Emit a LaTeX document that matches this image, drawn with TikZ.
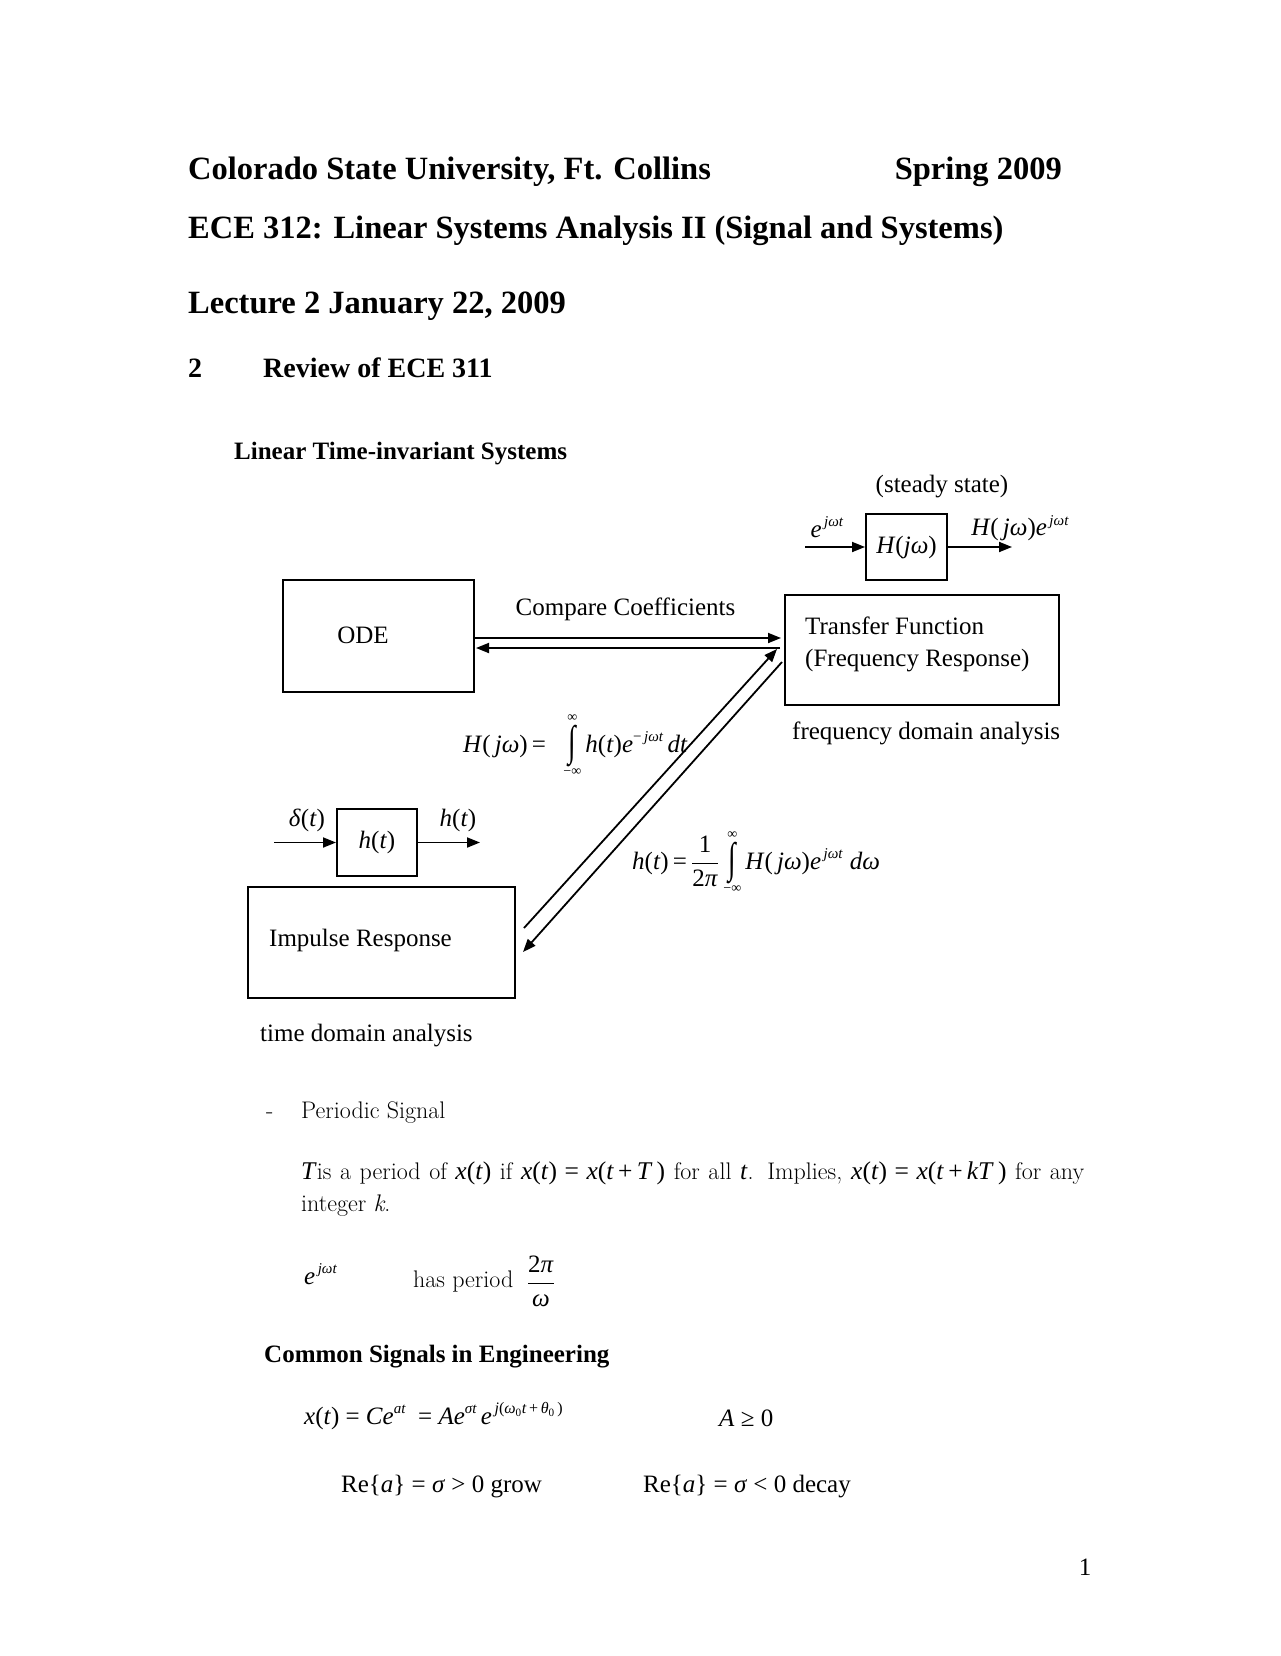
\documentclass[tikz,border=0pt]{standalone}
\usepackage{graphicx}
\usepackage{fontspec}
\setmainfont{Liberation Serif}
\usetikzlibrary{arrows.meta,calc}
\newcommand\vi[1]{\textit{#1}}
\newcommand\sups[1]{\raisebox{0.42em}{\fontsize{15}{15}\selectfont #1}}
\newcommand\mt[1]{{\rmfamily\fontsize{25.5}{30}\selectfont #1}}
\newcommand\lmf{\fontfamily{lmr}\fontsize{24}{28}\selectfont}
\newcommand\limint{\ensuremath{\mathop{\vcenter{\hbox{\scalebox{1.1}[1.7]{∫}}}}\limits^{\hbox{\fontsize{14}{14}\selectfont\raisebox{2pt}{∞}}}_{\hbox{\fontsize{14}{14}\selectfont\raisebox{-2pt}{−∞}}}}}
\begin{document}
\begin{tikzpicture}[x=1pt,y=-1pt,
  box/.style={draw,line width=2pt,inner sep=0pt},
  txt/.style={inner sep=0pt,font=\fontsize{25}{30}\selectfont},
  head/.style={inner sep=0pt,font=\fontsize{32.5}{38}\selectfont\bfseries},
  sec/.style={inner sep=0pt,font=\fontsize{28}{34}\selectfont\bfseries},
  bold25/.style={inner sep=0pt,font=\fontsize{25}{30}\selectfont\bfseries},
  lm/.style={inner sep=0pt,font=\lmf},
  arr/.style={line width=1.8pt,-{Triangle[length=13pt,width=10pt]}}]
\useasboundingbox[fill=white] (0,0) rectangle (1280,1656);
% headings
\node[head,anchor=base west] (t1) at (188,180) {Colorado State University, Ft. Collins};
\node[head,anchor=base east] (t2) at (1062,180) {Spring 2009};
\node[head,anchor=base west] (t3) at (188,238) {ECE 312: Linear Systems Analysis II\ (Signal and Systems)};
\node[head,anchor=base west] (t4) at (188,313) {Lecture 2\ January 22, 2009};
\node[sec,anchor=base west] (t5) at (188,377) {2};
\node[sec,anchor=base west] (t6) at (263,377) {Review of ECE 311};
\node[bold25,anchor=base west] (t7) at (234,459) {Linear Time-invariant Systems};
% steady state block
\node[txt,anchor=base] (ss) at (942,492) {(steady state)};
\node[box,txt,minimum width=81,minimum height=66] (hj) at (906.5,547) {\vi{H}(\vi{jω})};
\coordinate (hjin) at (805,547);
\coordinate (hjout) at (1012,547);
\draw[arr] (hjin) -- (hj.west);
\draw[arr] (hj.east) -- (hjout);
\node[txt] (ejw) at (827,527) {\vi{e}\sups{\,\vi{jωt}}};
\node[txt] (hout) at (1020,528) {\vi{H}(\,\vi{jω})\vi{e}\sups{\,\vi{jωt}}};
% main boxes
\node[box,minimum width=191,minimum height=112] (ode) at (378.5,636) {};
\node[txt,anchor=base] (odet) at (363,643) {ODE};
\node[box,minimum width=274,minimum height=110] (tf) at (922,650) {};
\node[txt,anchor=base west] (tft1) at (805,634) {Transfer Function};
\node[txt,anchor=base west] (tft2) at (805,666) {(Frequency Response)};
\node[box,minimum width=267,minimum height=111] (imp) at (381.5,942.5) {};
\node[txt,anchor=base west] (impt) at (269,946) {Impulse Response};
% impulse small block
\node[box,txt,minimum width=80,minimum height=67] (hb) at (377,842.5) {\vi{h}(\vi{t})};
\coordinate (hbin) at (274,842.5);
\coordinate (hbout) at (480,842.5);
\draw[arr] (hbin) -- (hb.west);
\draw[arr] (hb.east) -- (hbout);
\node[txt] (dl) at (307,820) {\vi{δ}(\vi{t})};
\node[txt] (hl) at (458,820) {\vi{h}(\vi{t})};
% labels
\node[txt,anchor=base] (cc) at (625.5,615) {Compare Coefficients};
\node[txt,anchor=base west] (fda) at (792,739) {frequency domain analysis};
\node[txt,anchor=base west] (tda) at (260,1041) {time domain analysis};
% connectors
\draw[arr] ($(ode.east)+(0,2)$) -- ($(tf.west)+(-3,-12)$);
\draw[arr] ($(tf.west)+(-4,-2)$) -- ($(ode.east)+(1,12)$);
\draw[arr] ($(imp.east)+(8,-14.5)$) -- ($(tf.west)+(-7,-1)$);
\draw[arr] ($(tf.west)+(-2,12)$) -- ($(imp.east)+(7,9.5)$);
% formulas
\node[txt,anchor=west] (f1) at (463,745) {\vi{H}(\,\vi{jω})\,=\;\, \limint\,\vi{h}(\vi{t})\vi{e}\sups{−\,\vi{jωt}}\,\vi{dt}};
\node[txt,anchor=west] (f2) at (632,862) {\vi{h}(\vi{t})\,=\,${\displaystyle\frac{\hbox{1}}{\hbox{2\vi{π}}}}$\,\limint\,\vi{H}(\,\vi{jω})\vi{e}\sups{\,\vi{jωt}}\;\vi{dω}};
% periodic signal
\node[lm,anchor=base west] (dash) at (266,1118) {-};
\node[lm,anchor=base west] (ps) at (301,1118) {Periodic Signal};
\node[lm,anchor=base west] (pl1) at (301,1179) {\makebox[783pt][s]{\mt{\vi{T}}is a period of \mt{\vi{x}(\vi{t})} if \mt{\vi{x}(\vi{t}) = \vi{x}(\vi{t}\,+\,\vi{T}\,)} for all \mt{\vi{t}}. Implies, \mt{\vi{x}(\vi{t}) = \vi{x}(\vi{t}\,+\,\vi{kT}\,)} for any}};
\node[lm,anchor=base west] (pl2) at (301,1211) {integer \textit{k}.};
\node[txt,anchor=base west] (ej) at (304,1284) {\vi{e}\sups{\,\vi{jωt}}};
\node[lm,anchor=base west] (hp) at (413,1287) {has period};
\node[txt] (fr) at (541,1281) {${\displaystyle\frac{\hbox{2\vi{π}}}{\hbox{\vi{ω}}}}$};
% common signals
\node[bold25,anchor=base west] (cs) at (264,1362) {Common Signals in Engineering};
\node[txt,anchor=base west] (xf) at (304,1424) {\vi{x}(\vi{t}) = \vi{Ce}\sups{\vi{at}}\ \ =\ \vi{Ae}\sups{\vi{σt}}\,\vi{e}\sups{\,{\fontsize{16}{16}\selectfont\vi{j}(\vi{ω}\textsubscript{0}\vi{t}\,+\,\vi{θ}\textsubscript{0}\,)}}};
\node[txt,anchor=base west] (ag) at (719,1426) {\vi{A} ≥ 0};
\node[txt,anchor=base west] (gr) at (341,1492) {Re\{\vi{a}\} = \vi{σ} > 0 grow};
\node[txt,anchor=base west] (dc) at (643,1492) {Re\{\vi{a}\} = \vi{σ} < 0 decay};
\node[txt,anchor=base] (pg) at (1085,1575) {1};
\end{tikzpicture}
\end{document}
